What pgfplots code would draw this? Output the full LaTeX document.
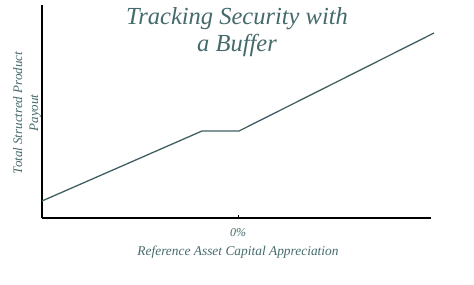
\documentclass[border=0pt]{standalone}
\usepackage{pgfplots}
\pgfplotsset{compat=1.18}
\usepackage{fontspec}
\setmainfont{Liberation Serif}
\definecolor{teal1}{HTML}{456A6C}
\definecolor{line1}{HTML}{3F6062}
\begin{document}
\begin{tikzpicture}
\useasboundingbox (0,0) rectangle (474pt,284pt);
\begin{axis}[
  at={(42pt,66pt)}, anchor=south west,
  scale only axis, width=389pt, height=213pt,
  xmin=42, xmax=431, ymin=66, ymax=279,
  axis x line*=bottom, axis y line*=left,
  axis line style={black, line width=1.5pt, -},
  xtick={238}, xticklabels={\itshape\color{teal1}\fontsize{12}{14}\selectfont 0\%},
  ytick=\empty,
  tick style={black, line width=1pt},
  major tick length=3pt,
  xtick align=inside,
  xticklabel style={yshift=-7pt},
  clip=false,
]
\addplot[line1, line width=1.3pt] coordinates {(42,83) (202,153) (239,153) (434,251)};
\node[teal1, font=\itshape\fontsize{24.5}{27}\selectfont, align=center] at (axis cs:237,251.5) {Tracking Security with\\a Buffer};
\node[teal1, font=\itshape\fontsize{13}{16}\selectfont, align=center, rotate=90] at (axis cs:27,171) {Total Structred Product\\Payout};
\node[teal1, font=\itshape\fontsize{13.4}{16}\selectfont] at (axis cs:238,32) {Reference Asset Capital Appreciation};
\end{axis}
\end{tikzpicture}
\end{document}
